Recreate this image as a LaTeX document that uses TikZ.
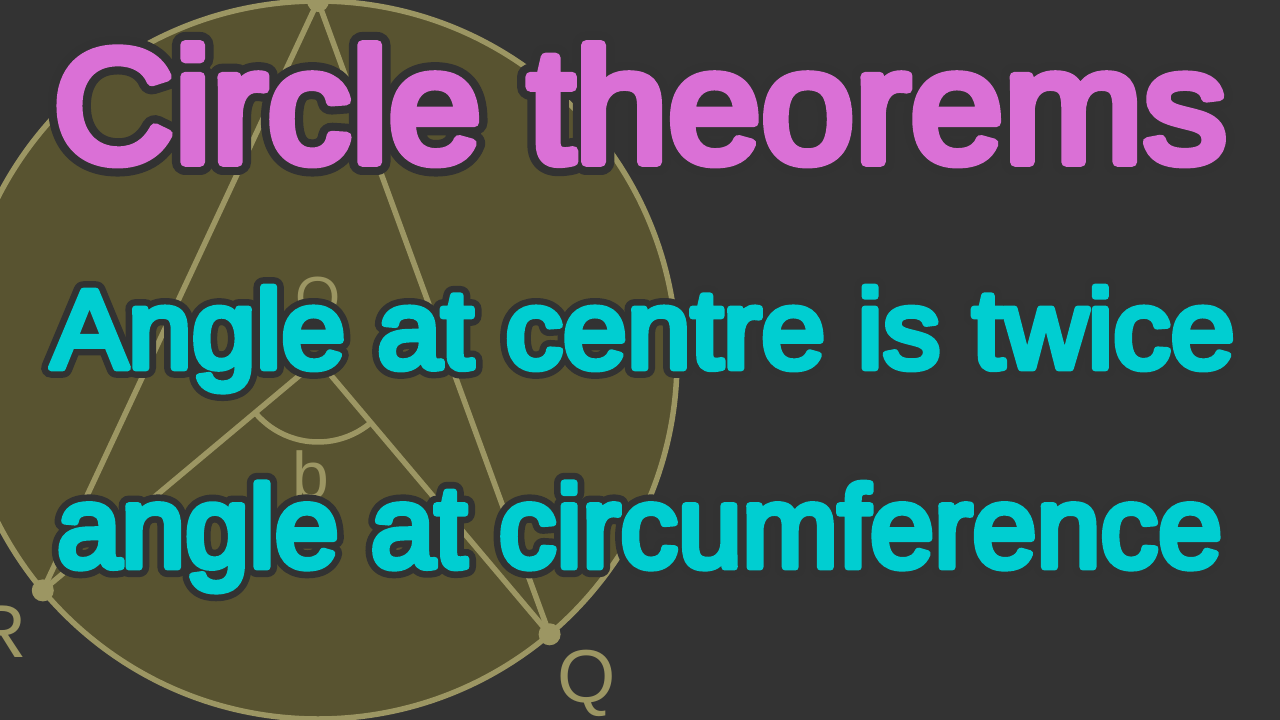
\documentclass[tikz,border=0pt]{standalone}
\usepackage{fontspec}
\usepackage{graphicx}
\usetikzlibrary{angles}
\setmainfont{Liberation Sans}
\newfontfamily\fillfont[FakeBold=6]{Liberation Sans}
\newfontfamily\outfontA[FakeBold=16]{Liberation Sans}
\newfontfamily\outfontB[FakeBold=17.5]{Liberation Sans}
\newfontfamily\lblfont{Liberation Sans}
\definecolor{bgc}{HTML}{333333}
\definecolor{disc}{HTML}{585330}
\definecolor{khaki}{HTML}{9C9663}
\definecolor{titlepink}{HTML}{DA70D6}
\definecolor{subcyan}{HTML}{00CED1}
\definecolor{olc}{HTML}{323232}
\newcommand{\outl}[5]{\resizebox{#2}{#3}{\special{pdf:literal direct 1 j 1 J}\makebox[0pt][l]{\color{olc}#5#4}{\color{#1}\fillfont #4}}}
\tikzset{
  geo/.style={draw=khaki, line width=5.5pt, line cap=round},
  ptdot/.style={fill=khaki},
  lbl/.style={text=khaki, inner sep=0pt, font=\lblfont\fontsize{75}{75}\selectfont},
  txt/.style={anchor=base west, inner sep=0pt, outer sep=0pt}
}
\begin{document}
\begin{tikzpicture}[x=1pt,y=-1pt,line join=round]
\useasboundingbox (0,0) rectangle (1280,720);
\clip (0,0) rectangle (1280,720);
\fill[bgc] (0,0) rectangle (1280,720);
% geometry
\coordinate (O) at (318,360);
\coordinate (P) at (318,1);
\coordinate (R) at (42.8,590.4);
\coordinate (Q) at (549.6,634.3);
\draw[fill=disc, draw=khaki, line width=5.5pt] (O) circle[radius=359pt];
\draw[geo] (P) -- (R);
\draw[geo] (P) -- (Q);
\draw[geo] (O) -- (R);
\draw[geo] (O) -- (Q);
\pic[draw=khaki, line width=5.5pt, angle radius=82pt] {angle=R--O--Q};
\pic[draw=khaki, line width=5.5pt, angle radius=77pt] {angle=R--P--Q};
\fill[ptdot] (P) circle[radius=11pt];
\fill[ptdot] (R) circle[radius=11pt];
\fill[ptdot] (Q) circle[radius=11pt];
% labels
\node[lbl, anchor=base, font=\lblfont\fontsize{58}{58}\selectfont] (lO) at (318,317) {O};
\node[lbl, anchor=base, font=\lblfont\fontsize{66}{66}\selectfont] (lb) at (311,498) {b};
\node[lbl, anchor=base east] (lR) at (27,657) {R};
\node[lbl, anchor=base west] (lQ) at (557,702) {Q};
% texts
\node[txt] (title) at (53,162) {\outl{titlepink}{1174pt}{117pt}{Circle theorems}{\outfontA}};
\node[txt] (sub1) at (51,368) {\outl{subcyan}{1183pt}{81pt}{Angle at centre is twice}{\outfontB}};
\node[txt] (sub2) at (57,567) {\outl{subcyan}{1165pt}{84pt}{angle at circumference}{\outfontB}};
\end{tikzpicture}
\end{document}
